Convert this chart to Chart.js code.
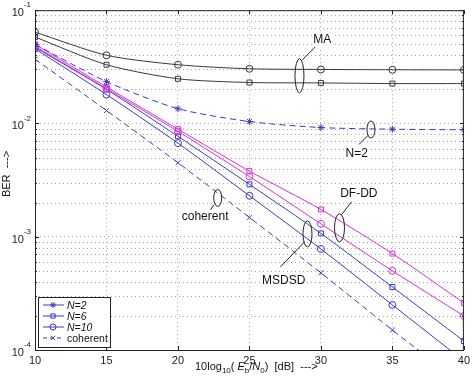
<!DOCTYPE html>
<html lang="en">
<head>
    <meta charset="UTF-8">
    <title>BER vs Eb/N0</title>
    <style>
        html, body { margin: 0; padding: 0; background: #fff; }
        #wrap { width: 474px; height: 377px; }
    </style>
</head>
<body>
    <div id="wrap"><canvas id="berChart" width="474" height="377"></canvas></div>

    <script src="https://cdn.jsdelivr.net/npm/chart.js"></script>
    <script>
// SNR points (dB)
const snr = [10, 15, 20, 25, 30, 35, 40];

// BER values
const maN10      = [0.064, 0.040, 0.033, 0.0304, 0.030, 0.0298, 0.0297];
const maN6       = [0.058, 0.033, 0.0248, 0.023, 0.0228, 0.0225, 0.0225];
const n2         = [0.050, 0.0234, 0.0135, 0.0104, 0.0092, 0.0089, 0.0088];
const dfddN6     = [0.050, 0.021, 0.0089, 0.0038, 0.00174, 0.00071, 0.00026];
const dfddN10    = [0.048, 0.0203, 0.0085, 0.0034, 0.0013, 0.0005, 0.0002];
const msdsdN6    = [0.047, 0.020, 0.0077, 0.0029, 0.00107, 0.00036, 0.00012];
const msdsdN10   = [0.0456, 0.018, 0.0067, 0.0023, 0.00078, 0.00025, 0.00008];
const coherent   = [0.037, 0.013, 0.0045, 0.00148, 0.00048, 0.00015, 0.000049];

const xTicks = [10, 15, 20, 25, 30, 35, 40];
const yDecades = [0.1, 0.01, 0.001, 0.0001];
const yMinor = [2, 3, 4, 5, 6, 7, 8, 9];

const legendLabels = ['N=2', 'N=6', 'N=10', 'coherent'];

const BLUE = '#3a3ad0';
const MAGENTA = '#e02ce0';
const DARK = '#3a3a3a';
const GRID = '#a8a8a8';

function pts(arr) {
    return arr.map((v, i) => ({ x: snr[i], y: v }));
}

function series(label, arr, color, style, dashed) {
    return {
        label: label,
        data: pts(arr),
        borderColor: color,
        backgroundColor: 'rgba(0,0,0,0)',
        borderWidth: 1,
        borderDash: dashed ? [6, 4] : [],
        pointStyle: style,
        pointRadius: 3.5,
        pointBorderColor: color,
        pointBackgroundColor: 'rgba(0,0,0,0)',
        pointBorderWidth: 1,
        tension: 0.25,
        fill: false,
        clip: 0
    };
}

// annotations: ellipse centre in data units, radii and leader offsets in px
const notes = [
    { text: 'MA',       ex: 28.5,  ey: 0.0264,  rx: 4.5, ry: 17, l: [3, -16, 16, -29],  tx: 30.1,  ty: 0.0546 },
    { text: 'N=2',      ex: 33.5,  ey: 0.00885, rx: 4,   ry: 8.5, l: [-3, 6, -12, 15],  tx: 32.5,  ty: 0.00546 },
    { text: 'DF-DD',    ex: 31.3,  ey: 0.0012,  rx: 5,   ry: 14, l: [2, -13, 12, -26],  tx: 32.65, ty: 0.00238 },
    { text: 'MSDSD',    ex: 29.06, ey: 0.00106, rx: 4.5, ry: 13, l: [-3, 8, -27, 33],   tx: 27.4,  ty: 0.00041 },
    { text: 'coherent', ex: 22.78, ey: 0.0022,  rx: 4,   ry: 8.5, l: [-4, 7, -10, 16],  tx: 21.9,  ty: 0.0015 }
];

const FONT = '"Liberation Sans", Arial, sans-serif';

// minor log grid (the log scale only gave decade lines)
const minorGrid = {
    id: 'minorGrid',
    beforeDatasetsDraw(chart) {
        const ctx = chart.ctx;
        const ys = chart.scales.y;
        const a = chart.chartArea;
        ctx.save();
        ctx.strokeStyle = GRID;
        ctx.lineWidth = 1;
        ctx.setLineDash([1, 3]);
        ctx.beginPath();
        yDecades.slice(1).forEach(d => yMinor.forEach(m => {
            const y = Math.round(ys.getPixelForValue(d * m)) + 0.5;
            ctx.moveTo(a.left, y);
            ctx.lineTo(a.right, y);
        }));
        ctx.stroke();
        ctx.restore();
    }
};

const extras = {
    id: 'extras',
    afterDraw(chart) {
        const ctx = chart.ctx;
        const xs = chart.scales.x, ys = chart.scales.y;
        const a = chart.chartArea;
        ctx.save();

        // box round the plot
        ctx.strokeStyle = '#222';
        ctx.lineWidth = 1;
        ctx.strokeRect(a.left + 0.5, a.top + 0.5, a.right - a.left - 1, a.bottom - a.top);

        // small inward tick marks
        ctx.beginPath();
        xTicks.forEach(v => {
            const x = Math.round(xs.getPixelForValue(v)) + 0.5;
            ctx.moveTo(x, a.bottom); ctx.lineTo(x, a.bottom - 4);
            ctx.moveTo(x, a.top); ctx.lineTo(x, a.top + 4);
        });
        yDecades.forEach(d => {
            const y = Math.round(ys.getPixelForValue(d)) + 0.5;
            ctx.moveTo(a.left, y); ctx.lineTo(a.left + 4, y);
            ctx.moveTo(a.right, y); ctx.lineTo(a.right - 4, y);
            if (d < 0.1) {
                yMinor.forEach(m => {
                    const ym = Math.round(ys.getPixelForValue(d * m)) + 0.5;
                    ctx.moveTo(a.left, ym); ctx.lineTo(a.left + 2, ym);
                    ctx.moveTo(a.right, ym); ctx.lineTo(a.right - 2, ym);
                });
            }
        });
        ctx.stroke();

        // y tick labels 10^-n
        ctx.fillStyle = '#222';
        ctx.textBaseline = 'middle';
        yDecades.forEach(v => {
            const y = ys.getPixelForValue(v);
            const e = Math.round(Math.log10(v));
            const sup = String(e);
            ctx.font = '8px ' + FONT;
            const sw = ctx.measureText(sup).width;
            ctx.textAlign = 'left';
            ctx.fillText(sup, a.left - 4 - sw, y - 5);
            ctx.font = '11px ' + FONT;
            ctx.textAlign = 'right';
            ctx.fillText('10', a.left - 4 - sw, y + 3);
        });

        // annotations
        ctx.strokeStyle = '#222';
        ctx.textAlign = 'center';
        ctx.textBaseline = 'middle';
        notes.forEach(n => {
            const cx = xs.getPixelForValue(n.ex), cy = ys.getPixelForValue(n.ey);
            ctx.beginPath();
            ctx.ellipse(cx, cy, n.rx, n.ry, 0, 0, Math.PI * 2);
            ctx.stroke();
            ctx.beginPath();
            ctx.moveTo(cx + n.l[0], cy + n.l[1]);
            ctx.lineTo(cx + n.l[2], cy + n.l[3]);
            ctx.stroke();
            const tx = xs.getPixelForValue(n.tx), ty = ys.getPixelForValue(n.ty);
            ctx.font = '12px ' + FONT;
            const w = ctx.measureText(n.text).width;
            ctx.fillStyle = '#fff';
            ctx.fillRect(tx - w / 2 - 1, ty - 7, w + 2, 14);
            ctx.fillStyle = '#111';
            ctx.fillText(n.text, tx, ty);
        });

        // legend box in lower left
        const lx = a.left + 3, ly = a.bottom - 53, lw = 72, lh = 50;
        ctx.fillStyle = '#fff';
        ctx.fillRect(lx, ly, lw, lh);
        ctx.strokeStyle = '#222';
        ctx.lineWidth = 1;
        ctx.strokeRect(lx + 0.5, ly + 0.5, lw, lh);
        const legStyles = ['star', 'rect', 'circle', 'crossRot'];
        legendLabels.forEach((lab, i) => {
            const y = ly + 8 + i * 11;
            ctx.strokeStyle = BLUE;
            ctx.lineWidth = 1;
            ctx.setLineDash(i === 3 ? [4, 3] : []);
            ctx.beginPath();
            ctx.moveTo(lx + 5, y);
            ctx.lineTo(lx + 26, y);
            ctx.stroke();
            ctx.setLineDash([]);
            ctx.fillStyle = 'rgba(0,0,0,0)';
            Chart.helpers.drawPoint(ctx, { pointStyle: legStyles[i], radius: 3, borderWidth: 1 }, lx + 15, y);
            ctx.fillStyle = '#111';
            ctx.textAlign = 'left';
            ctx.font = (i < 3 ? 'italic ' : '') + '10.5px ' + FONT;
            ctx.fillText(lab, lx + 29, y + 1);
        });

        // x axis title with subscripts
        let x = 195;
        const by = 370;
        ctx.fillStyle = '#111';
        ctx.textAlign = 'left';
        ctx.textBaseline = 'alphabetic';
        const parts = [
            ['10log', '11px', 0], ['10', '8px', 3], ['( ', '11px', 0],
            ['E', 'italic 11px', 0], ['b', '8px', 3], ['/', '11px', 0],
            ['N', 'italic 11px', 0], ['0', '8px', 3], [')  [dB]  --->', '11px', 0]
        ];
        parts.forEach(p => {
            ctx.font = p[1] + ' ' + FONT;
            ctx.fillText(p[0], x, by + p[2]);
            x += ctx.measureText(p[0]).width;
        });

        // y axis title
        ctx.translate(10, 174);
        ctx.rotate(-Math.PI / 2);
        ctx.font = '11px ' + FONT;
        ctx.textAlign = 'center';
        ctx.fillText('BER  --->', 0, 0);
        ctx.restore();
    }
};

new Chart(document.getElementById('berChart'), {
    type: 'line',
    data: {
        datasets: [
            series('MA N=10', maN10, DARK, 'circle', false),
            series('MA N=6', maN6, DARK, 'rect', false),
            series('N=2', n2, BLUE, 'star', true),
            series('DF-DD N=6', dfddN6, MAGENTA, 'rect', false),
            series('DF-DD N=10', dfddN10, MAGENTA, 'circle', false),
            series('MSDSD N=6', msdsdN6, BLUE, 'rect', false),
            series('MSDSD N=10', msdsdN10, BLUE, 'circle', false),
            series('coherent', coherent, BLUE, 'crossRot', true)
        ]
    },
    options: {
        responsive: false,
        animation: false,
        layout: { padding: { top: 8, right: 5, left: 0, bottom: 0 } },
        plugins: {
            legend: { display: false },
            tooltip: { enabled: false }
        },
        scales: {
            x: {
                type: 'linear',
                min: 10,
                max: 40,
                afterBuildTicks: s => { s.ticks = xTicks.map(v => ({ value: v })); },
                afterFit: s => { s.height = 27; },
                grid: { color: GRID, tickLength: 0, drawTicks: false },
                border: { color: '#222', dash: [1, 3] },
                ticks: {
                    color: '#222',
                    font: { family: FONT, size: 11 },
                    padding: 4,
                    maxRotation: 0
                }
            },
            y: {
                type: 'logarithmic',
                min: 0.0001,
                max: 0.1,
                afterBuildTicks: s => { s.ticks = yDecades.map(v => ({ value: v })); },
                afterFit: s => { s.width = 35; },
                grid: { color: GRID, drawTicks: false },
                border: { color: '#222', dash: [1, 3] },
                ticks: {
                    autoSkip: false,
                    callback: () => ''
                }
            }
        }
    },
    plugins: [minorGrid, extras]
});
    </script>
</body>
</html>
